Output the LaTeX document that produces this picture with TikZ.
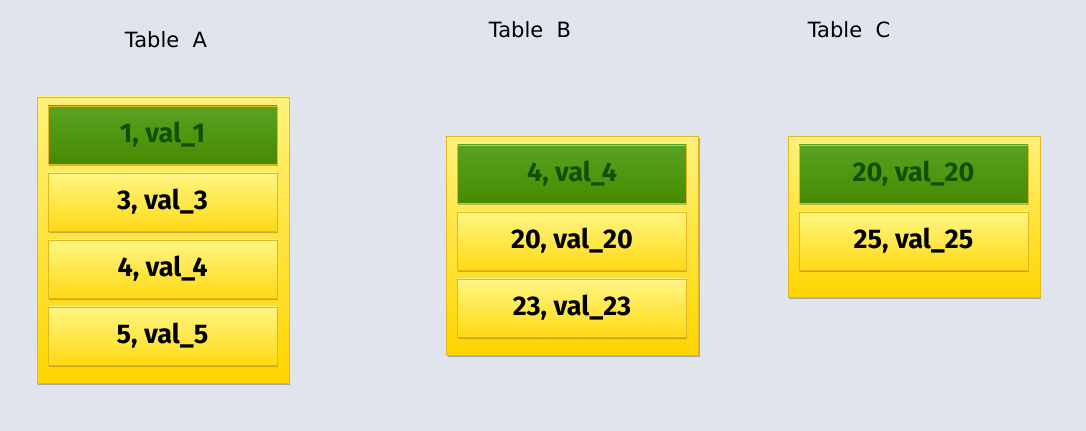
\documentclass[tikz,border=0pt]{standalone}
\usepackage{fontspec}
\usepackage{tikz}
\usetikzlibrary{positioning}
\usetikzlibrary{shadows}
\newfontfamily\rowfont{Fira Sans}
\newfontfamily\titlefont{DejaVu Sans}
\definecolor{bgcol}{HTML}{E0E4EC}
\definecolor{outertop}{HTML}{FFF27A}
\definecolor{outerbot}{HTML}{FFD500}
\definecolor{rowtop}{HTML}{FFF584}
\definecolor{rowbot}{HTML}{FFDA12}
\definecolor{greentop}{HTML}{5AA222}
\definecolor{greenbot}{HTML}{468A00}
\definecolor{greentext}{HTML}{134F00}
\definecolor{edgecol}{HTML}{E2B820}

\begin{document}
\begin{tikzpicture}[x=0.5pt, y=-0.5pt, node distance=4.1pt,
  tablebox/.style={draw=edgecol, line width=0.4pt, top color=outertop, bottom color=outerbot,
    minimum width=126pt, drop shadow={shadow xshift=0.6pt, shadow yshift=-0.9pt, opacity=0.4, fill=black!70}},
  keyrow/.style={draw=edgecol, line width=0.4pt, top color=greentop, bottom color=greenbot,
    minimum width=114.5pt, minimum height=29pt, text=greentext, font=\rowfont\bfseries\fontsize{13.5}{15}\selectfont,
    drop shadow={shadow xshift=0.4pt, shadow yshift=-0.9pt, opacity=0.35, fill=black!70}},
  valrow/.style={draw=edgecol, line width=0.4pt, top color=rowtop, bottom color=rowbot,
    minimum width=114.5pt, minimum height=29pt, text=black, font=\rowfont\bfseries\fontsize{13.5}{15}\selectfont,
    drop shadow={shadow xshift=0.4pt, shadow yshift=-0.9pt, opacity=0.35, fill=black!70}},
  tabletitle/.style={font=\titlefont\fontsize{10.5}{13}\selectfont}]
\fill[bgcol] (0,0) rectangle (1086,431);
\useasboundingbox (0,0) rectangle (1086,431);

% titles
\node[tabletitle] (titleA) at (166,40) {Table\ \ A};
\node[tabletitle] (titleB) at (530,30) {Table\ \ B};
\node[tabletitle] (titleC) at (849,30) {Table\ \ C};

% outer boxes
\node[tablebox, minimum height=143pt] (tableA) at (163,240) {};
\node[tablebox, minimum height=109.5pt] (tableB) at (572.5,245.5) {};
\node[tablebox, minimum height=80.5pt] (tableC) at (914,216.5) {};

% table A
\node[keyrow] (a1) at (162.5,135) {1, val\_1};
\node[valrow, below=of a1] (a3) {3, val\_3};
\node[valrow, below=of a3] (a4) {4, val\_4};
\node[valrow, below=of a4] (a5) {5, val\_5};

% table B
\node[keyrow] (b4) at (572,174) {4, val\_4};
\node[valrow, below=of b4] (b20) {20, val\_20};
\node[valrow, below=of b20] (b23) {23, val\_23};

% table C
\node[keyrow] (c20) at (913.5,174) {20, val\_20};
\node[valrow, below=of c20] (c25) {25, val\_25};
\end{tikzpicture}
\end{document}
